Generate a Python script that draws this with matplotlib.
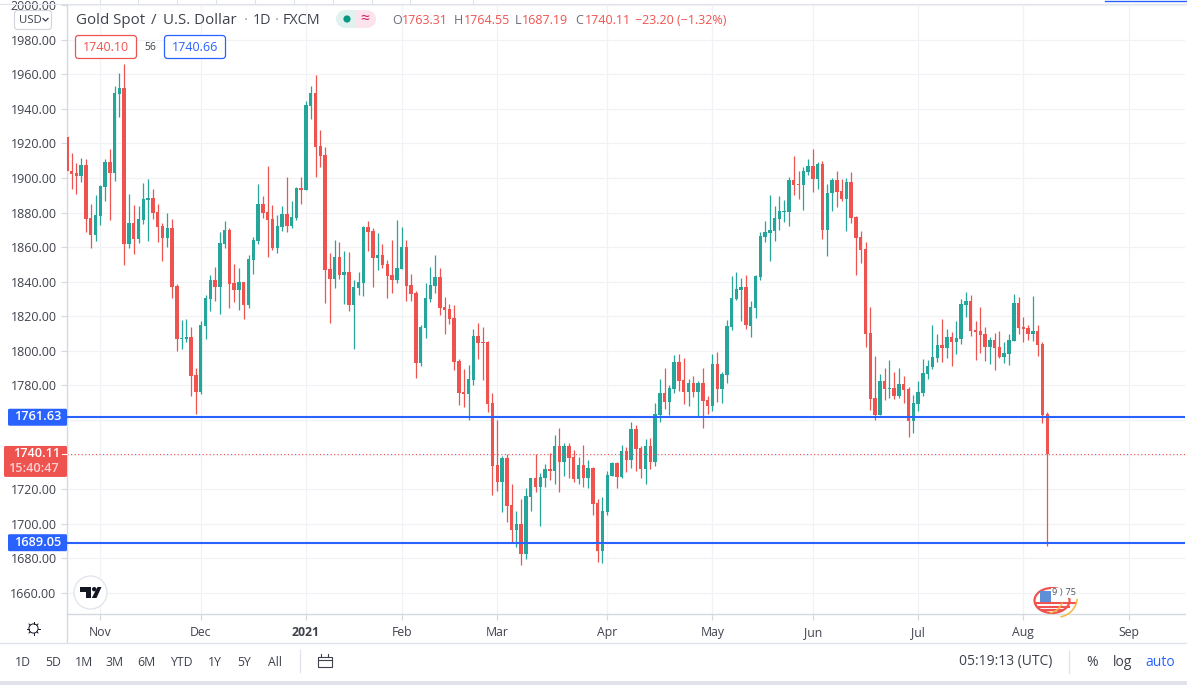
######## IMPORTS ########
import matplotlib
matplotlib.use("Agg")
import matplotlib.pyplot as plt
from matplotlib.patches import Circle, Ellipse, FancyBboxPatch, Polygon, Rectangle, Wedge

######## DATA ########
opens = [
    1924, 1904.1, 1903.2, 1901.2, 1907.6, 1877, 1867.1, 1878.1, 1894.9, 1909.3,
    1903, 1948.6, 1952.1, 1861.7, 1873.8, 1864.6, 1875.6, 1887.1, 1888.3, 1880.2,
    1872.1, 1865.2, 1870.9, 1837.3, 1806.8, 1806.8, 1807.9, 1786, 1776.1, 1814.3,
    1829.9, 1840.9, 1836.8, 1861.7, 1869.8, 1839.1, 1835.1, 1839.7, 1826.4, 1852.4,
    1863.4, 1885, 1880.4, 1876.4, 1859.6, 1871.8, 1879.3, 1872.3, 1877, 1894.3,
    1893.1, 1941.7, 1949.2, 1918.6, 1913.4, 1847.5, 1841.7, 1854.4, 1844, 1845.5,
    1826.3, 1836.4, 1839.4, 1871.8, 1869.4, 1853.8, 1855.6, 1850.4, 1844, 1841.1,
    1847.5, 1860.2, 1838.2, 1833.6, 1793.1, 1813.4, 1830.1, 1837.6, 1842.9, 1825.5,
    1824.4, 1819.2, 1794.3, 1776.4, 1775.2, 1783.3, 1808.7, 1805.3, 1805.3, 1770,
    1734.2, 1724.4, 1738.2, 1711.1, 1696.6, 1700.1, 1682.7, 1715.7, 1726.7, 1721.5,
    1726.7, 1731.9, 1730.7, 1745.2, 1735.9, 1745.2, 1738.8, 1726, 1734.2, 1726.7,
    1732.4, 1712.2, 1684.5, 1707, 1727.8, 1735, 1726.9, 1741.9, 1736.7, 1754.6,
    1743.7, 1731.5, 1744.8, 1735.6, 1762.7, 1775.5, 1770.3, 1777.8, 1793.4, 1783,
    1776, 1781.2, 1776, 1781.2, 1771.4, 1767.9, 1792.2, 1777.8, 1785.9, 1813.6,
    1829.8, 1835, 1836.7, 1814.2, 1824.6, 1842.6, 1865.8, 1868, 1869.2, 1876.2,
    1880.2, 1880.2, 1898.8, 1896.4, 1895.9, 1903.4, 1906.9, 1899.3, 1908, 1869.8,
    1891.2, 1898.8, 1892.4, 1887.8, 1897.6, 1877.3, 1865.8, 1858.8, 1810.2, 1772.5,
    1763.2, 1782.4, 1777.7, 1778.6, 1774, 1780.9, 1778, 1759.5, 1769.3, 1775.7,
    1786.7, 1790.7, 1795.9, 1803.4, 1801.7, 1808, 1805.2, 1806.9, 1826.6, 1828.9,
    1812.1, 1811.5, 1809.8, 1802.3, 1806.3, 1802.3, 1796.5, 1798.2, 1805.7, 1827.7,
    1813.8, 1813.3, 1809.8, 1811.5, 1804, 1763.31,
]
highs = [
    1924.4, 1914.5, 1908.7, 1911.6, 1911, 1885, 1890.3, 1896, 1911, 1916.8,
    1953.3, 1960.8, 1966, 1890.8, 1884.2, 1883.7, 1897, 1899.5, 1893.5, 1884.8,
    1873.8, 1879.6, 1876.1, 1838.7, 1817.8, 1818.3, 1813.7, 1790, 1817.2, 1832.2,
    1843.8, 1848.4, 1868.6, 1875, 1871, 1850.1, 1847.8, 1840, 1855.3, 1865.7,
    1896.4, 1889.7, 1907, 1884.5, 1878.7, 1883.9, 1900.7, 1886.8, 1894.9, 1900.7,
    1944.6, 1953.3, 1959.6, 1927.8, 1918, 1856.7, 1864.2, 1863.1, 1857.9, 1857.3,
    1841, 1845.7, 1872.3, 1875.2, 1871.2, 1868.3, 1861.9, 1852.7, 1864.2, 1875.8,
    1871.8, 1864.2, 1844.4, 1834.8, 1815.1, 1839.4, 1848.6, 1855.6, 1848, 1831.3,
    1827.2, 1826.7, 1795.5, 1789.7, 1792, 1812.8, 1816.3, 1814, 1805.9, 1775.8,
    1760.2, 1739.4, 1740.5, 1723.2, 1707.6, 1714.5, 1720.9, 1726.7, 1740.5, 1729.6,
    1734.8, 1741.1, 1751.5, 1755.6, 1746.9, 1746.9, 1742.8, 1738.8, 1745.7, 1737,
    1733, 1714.5, 1715.7, 1730.4, 1736, 1735.5, 1745.4, 1744.2, 1758.7, 1757,
    1744.8, 1748.9, 1749.4, 1769.7, 1783.5, 1789.9, 1780.1, 1797.4, 1798, 1795.7,
    1783.5, 1785.3, 1782.4, 1789.9, 1773.7, 1798, 1799.2, 1787.6, 1817.6, 1843.1,
    1845.4, 1841.9, 1843.7, 1828.6, 1843.7, 1868.6, 1875, 1890.1, 1883.7, 1889.5,
    1887.2, 1900.5, 1912.7, 1904, 1906.3, 1910.9, 1916.7, 1909.2, 1909.8, 1896.4,
    1899.9, 1904, 1899.3, 1899.9, 1903.4, 1877.9, 1869.2, 1862.9, 1825.2, 1796.8,
    1786.4, 1789.9, 1794.5, 1787.8, 1790.1, 1785.5, 1779.2, 1774.5, 1782.6, 1795.3,
    1794.8, 1815, 1809.8, 1818.5, 1812.7, 1810.9, 1817.3, 1830, 1834.1, 1832.3,
    1817.3, 1825.4, 1813.8, 1808, 1810.4, 1811.5, 1805.2, 1809.8, 1832.9, 1831.2,
    1819.6, 1815, 1831.8, 1815, 1805.2, 1764.55,
]
lows = [
    1903.7, 1893.7, 1890.8, 1897.8, 1868.9, 1859.4, 1863.6, 1873, 1886.8, 1875.8,
    1898.3, 1935.3, 1849.6, 1859.4, 1855.9, 1862.3, 1873.3, 1863.4, 1876.1, 1862.9,
    1851.9, 1860, 1830.5, 1799.8, 1801, 1805, 1773.8, 1763.4, 1775, 1806.8,
    1823, 1828.7, 1821.2, 1859.4, 1824.7, 1828.2, 1823.5, 1818.3, 1824.7, 1844.4,
    1861.7, 1877, 1854.4, 1858.5, 1856.7, 1869.4, 1868.9, 1871.2, 1875.8, 1885,
    1893.1, 1934.2, 1900.7, 1906.4, 1827.5, 1816, 1836.5, 1841.5, 1827, 1822.9,
    1801, 1832.4, 1831.7, 1857.9, 1837, 1846.9, 1848, 1830.5, 1833.5, 1839.2,
    1847.5, 1829, 1829, 1784.5, 1791.4, 1807.6, 1828.4, 1833.6, 1820.9, 1809.9,
    1815.7, 1789.1, 1768.9, 1767.7, 1760.2, 1780.4, 1795.5, 1783.3, 1764.8, 1716.8,
    1719.2, 1707, 1701.2, 1689.1, 1686.8, 1676.4, 1679.8, 1707.6, 1718.6, 1698.9,
    1721.5, 1725.5, 1723.2, 1718.6, 1727.8, 1726.7, 1724.4, 1723.2, 1721.5, 1720.9,
    1705.3, 1678.1, 1677.5, 1705.3, 1727.5, 1720.7, 1726.3, 1729.8, 1732.1, 1730.4,
    1726.3, 1722.9, 1731.5, 1733.3, 1758.7, 1766.2, 1762.7, 1775.5, 1776.6, 1769.1,
    1767.9, 1773.1, 1761.6, 1755.2, 1763.3, 1765, 1770.3, 1769.7, 1781.2, 1811.9,
    1829.2, 1817.1, 1812.4, 1807.8, 1818.8, 1840.8, 1862.9, 1851.9, 1863.4, 1869.8,
    1874.4, 1872.1, 1890.1, 1887.8, 1881.4, 1901.7, 1891.8, 1893.6, 1864.6, 1854.7,
    1880.8, 1883.1, 1886.6, 1869.2, 1873.9, 1843.7, 1850.7, 1802, 1766.1, 1759.8,
    1763.2, 1771.4, 1772.5, 1772.2, 1772.8, 1769.9, 1750.3, 1752.6, 1765.3, 1774,
    1783.8, 1789.6, 1793.6, 1793.6, 1795.9, 1791.3, 1798.2, 1804, 1819.6, 1808.6,
    1794.8, 1798.8, 1794.2, 1792.4, 1789, 1795.9, 1793, 1791.8, 1805.7, 1809.8,
    1805.2, 1806.3, 1805.7, 1797.1, 1758.3, 1687.19,
]
closes = [
    1904, 1902.4, 1901.2, 1907.6, 1876.4, 1867.1, 1878.7, 1895.5, 1909.3, 1903,
    1949.2, 1952.1, 1861.7, 1873.8, 1864.6, 1876.1, 1887.7, 1888.3, 1879.6, 1871.5,
    1865.2, 1870.9, 1836.8, 1806.8, 1807.3, 1807.9, 1785.4, 1776.1, 1814.9, 1830.5,
    1840.9, 1836.8, 1862.3, 1869.8, 1838.6, 1835.1, 1839.7, 1826.4, 1853, 1864,
    1884.8, 1879.8, 1875.8, 1859.6, 1872.3, 1879.3, 1872.3, 1877.5, 1894.3, 1893.1,
    1942.3, 1949.2, 1918, 1912.8, 1846.9, 1841.7, 1854.4, 1844, 1845.7, 1826.3,
    1837, 1840, 1871.8, 1868.9, 1853.8, 1855.6, 1849.8, 1843.4, 1841.1, 1848,
    1860.2, 1837.6, 1833, 1793.1, 1814, 1830.7, 1838.2, 1842.9, 1824.9, 1823.8,
    1818.6, 1793.7, 1775.8, 1775.2, 1783.9, 1808.7, 1804.7, 1804.7, 1769.4, 1733.6,
    1724.4, 1738.2, 1710.5, 1696.6, 1700.1, 1682.7, 1716.3, 1726.7, 1721.5, 1727.2,
    1731.9, 1730.7, 1745.2, 1735.9, 1745.2, 1738.2, 1726, 1734.2, 1726.7, 1732.4,
    1711.6, 1684.5, 1707.6, 1728.4, 1735, 1726.9, 1741.9, 1736.7, 1754.6, 1743.1,
    1731.5, 1744.8, 1735.6, 1763.3, 1775.5, 1770.3, 1778.3, 1793.4, 1782.4, 1776,
    1781.2, 1776, 1781.2, 1770.8, 1767.9, 1792.2, 1777.8, 1786.4, 1814.2, 1830.4,
    1835.6, 1836.7, 1814.8, 1825.2, 1843.1, 1866.3, 1868.6, 1869.8, 1876.8, 1880.8,
    1880.8, 1898.8, 1895.9, 1895.9, 1904, 1906.9, 1899.3, 1908, 1869.8, 1891.2,
    1898.8, 1891.8, 1887.8, 1897.6, 1876.8, 1865.2, 1858.2, 1809.6, 1771.9, 1763.2,
    1782.4, 1777.7, 1778.3, 1774, 1780.9, 1777.4, 1759.5, 1769.9, 1776.3, 1787.2,
    1791.3, 1796.5, 1803.4, 1801.7, 1808, 1805.2, 1807.5, 1827.1, 1828.9, 1811.5,
    1810.9, 1809.2, 1802.3, 1806.3, 1801.7, 1796.5, 1798.8, 1806.3, 1827.7, 1813.3,
    1812.7, 1809.8, 1811.5, 1803.4, 1763, 1740.11,
]

# Bar number of the first session of each month
month_bars = [7, 28, 50, 70, 90, 113, 135, 156, 178, 200, 222]
month_labels = ["Nov", "Dec", "2021", "Feb", "Mar", "Apr", "May", "Jun", "Jul", "Aug", "Sep"]

price_ticks = [1660, 1680, 1700, 1720, 1740, 1760, 1780, 1800, 1820, 1840, 1860, 1880,
               1900, 1920, 1940, 1960, 1980, 2000]
hidden_labels = [1740, 1760]  # these sit under the price tags

support = 1689.05
resistance = 1761.63
last_price = 1740.11
bid = "1740.10"
ask = "1740.66"
spread = "56"
countdown = "15:40:47"
ranges = ["1D", "5D", "1M", "3M", "6M", "YTD", "1Y", "5Y", "All"]
range_x = [23, 53, 84, 115, 146, 181, 215, 244, 275]

######## STYLE ########
UP = "#26a69a"
DOWN = "#ef5350"
BLUE = "#2962ff"
GRID = "#f1f2f6"
AXIS = "#d6d8e0"
TEXT = "#3f424d"
WIDTH, HEIGHT = 1187, 685

plt.rcParams["font.family"] = ["Open Sans", "DejaVu Sans"]
plt.rcParams["font.size"] = 9

fig = plt.figure(figsize=(WIDTH / 100, HEIGHT / 100), dpi=100, facecolor="white")

######## PRICE PANE ########
pane_l, pane_r, pane_t, pane_b = 67, 1185, 4, 614
ax = fig.add_axes([pane_l / WIDTH, 1 - pane_b / HEIGHT, (pane_r - pane_l) / WIDTH, (pane_b - pane_t) / HEIGHT])
ax.set_xlim(0.04, 233.8)
ax.set_ylim(1647.8, 2000.7)

for name in ["top", "right"]:
    ax.spines[name].set_visible(False)
for name in ["left", "bottom"]:
    ax.spines[name].set_color(AXIS)
    ax.spines[name].set_linewidth(1.0)

ax.set_axisbelow(True)
ax.grid(True, color=GRID, linewidth=0.9)

ax.set_yticks(price_ticks)
ax.set_yticklabels(["" if p in hidden_labels else f"{p:.2f}" for p in price_ticks])
ax.tick_params(axis="y", length=4, width=0.8, color=AXIS, labelcolor=TEXT, pad=3.5, labelsize=9)
ax.set_xticks(month_bars)
ax.set_xticklabels(month_labels)
ax.tick_params(axis="x", length=4, width=0.8, color=AXIS, labelcolor=TEXT, pad=4.5, labelsize=8.8)
ax.get_xticklabels()[2].set_fontweight("bold")

# Candles
bars = list(range(len(closes)))
colors = [UP if c >= o else DOWN for o, c in zip(opens, closes)]
bottoms = [min(o, c) for o, c in zip(opens, closes)]
heights = [max(abs(c - o), 0.6) for o, c in zip(opens, closes)]
ax.vlines(bars, lows, highs, colors=colors, linewidth=0.9, zorder=2)
ax.bar(bars, heights, bottom=bottoms, width=0.72, color=colors, linewidth=0, zorder=3)

# Horizontal levels and last price line
ax.axhline(resistance, color=BLUE, linewidth=1.5, zorder=4)
ax.axhline(support, color=BLUE, linewidth=1.5, zorder=4)
ax.axhline(last_price, color=DOWN, linewidth=0.8, linestyle=(0, (1, 2.2)), zorder=4)

######## INTERFACE LAYER (pixel coordinates) ########
ui = fig.add_axes([0, 0, 1, 1], facecolor="none")
ui.set_xlim(0, WIDTH)
ui.set_ylim(HEIGHT, 0)
ui.axis("off")


def label(x, y, s, color=TEXT, size=9, ha="left", weight="normal", z=10):
    return ui.text(x, y, s, color=color, fontsize=size, ha=ha, va="center", fontweight=weight, zorder=z)


def box(x, y, w, h, face, edge="none", lw=1.0, round_px=2, z=8):
    patch = FancyBboxPatch((x + round_px, y + round_px), w - 2 * round_px, h - 2 * round_px,
                           boxstyle=f"round,pad={round_px}", facecolor=face, edgecolor=edge, linewidth=lw, zorder=z)
    ui.add_patch(patch)


def price_to_y(price):
    return HEIGHT - ax.transData.transform((0, price))[1]


# Frame lines
ui.plot([0, WIDTH], [3.5, 3.5], color="#e0e3eb", linewidth=0.8)
ui.plot([0, WIDTH], [642.5, 642.5], color="#e0e3eb", linewidth=1.0)
ui.plot([66.5, 66.5], [pane_b, 642], color=AXIS, linewidth=1.0)
for x in [100, 138, 177, 216, 255, 294, 333, 372, 410, 473]:
    ui.plot([x, x], [0, 3], color="#e0e3eb", linewidth=0.8)
ui.plot([1105, WIDTH], [0.5, 0.5], color=BLUE, linewidth=1.0)
ui.add_patch(Rectangle((0, 681), WIDTH, 4, facecolor="#e0e3eb", edgecolor="none"))

# Header
label(76, 20, "Gold Spot", size=10.9)
label(151, 20, "/", size=10.9)
label(163, 20, "U.S. Dollar", size=10.9)
label(244, 20, "·", color="#9598a1", size=10.9)
label(253, 20, "1D", size=10.4)
label(275, 20, "·", color="#9598a1", size=10.9)
label(283, 20, "FXCM", size=10.4)

ui.add_patch(Wedge((345, 19), 9, 90, 270, facecolor="#dff2ef", edgecolor="none", zorder=8))
ui.add_patch(Rectangle((345, 10), 11, 18, facecolor="#dff2ef", edgecolor="none", zorder=8))
ui.add_patch(Rectangle((356, 10), 11, 18, facecolor="#fbe4ec", edgecolor="none", zorder=8))
ui.add_patch(Wedge((367, 19), 9, -90, 90, facecolor="#fbe4ec", edgecolor="none", zorder=8))
ui.add_patch(Circle((347, 19), 3.6, facecolor="#089981", edgecolor="none", zorder=9))
label(365, 19, "≈", color="#d81b60", size=11.5, ha="center")

ohlc = [(392, "O", "1763.31"), (454, "H", "1764.55"), (515, "L", "1687.19"), (575, "C", "1740.11")]
for x, letter, value in ohlc:
    label(x, 20, letter, color="#6a6d78", size=9)
    label(x + (10 if letter != "L" else 7), 20, value, color=DOWN, size=9)
label(635, 20, "−23.20 (−1.32%)", color=DOWN, size=9)

box(75.5, 35.5, 61, 23, "white", edge=DOWN, lw=0.9, round_px=3)
label(106, 47, bid, color=DOWN, ha="center", size=9, z=9)
label(150, 47, spread, color=TEXT, ha="center", size=7.4)
box(164.5, 35.5, 61, 23, "white", edge=BLUE, lw=0.9, round_px=3)
label(195, 47, ask, color=BLUE, ha="center", size=9, z=9)

# Currency button
box(14.5, 10.5, 37, 19, "white", edge="#d1d4dc", lw=0.8, round_px=3)
label(19, 20, "USD", size=8.2, z=9)
ui.plot([43, 45.5, 48], [18.5, 21, 18.5], color=TEXT, linewidth=0.9, zorder=9)

# Price tags on the axis, placed from the same level values as the lines
for level in [resistance, support]:
    tag_y = price_to_y(level)
    box(8, tag_y - 8.5, 59, 17, BLUE, round_px=1.5)
    label(37.5, tag_y - 0.3, f"{level:.2f}", color="white", ha="center", size=9.2, weight="semibold")

last_y = price_to_y(last_price)
box(4, last_y - 8.5, 63, 31, DOWN, round_px=1.5)
label(37, last_y - 0.5, f"{last_price:.2f}", color="white", ha="center", size=9.2, weight="semibold")
label(33.5, last_y + 14, countdown, color="#fbd0cf", ha="center", size=9.2, weight="semibold")
ui.plot([62, 67], [last_y, last_y], color="white", linewidth=0.8, zorder=10)

# Round logo in the lower left corner of the pane
ui.add_patch(Circle((90.5, 592.5), 16.5, facecolor="white", edgecolor="#e0e3eb", linewidth=0.9, zorder=7))
ui.add_patch(Polygon([(80, 587), (91, 587), (91, 598), (86, 598), (86, 591.5), (80, 591.5)],
                     facecolor="#131722", edgecolor="none", zorder=8))
ui.add_patch(Circle((94.2, 589.2), 2.2, facecolor="#131722", edgecolor="none", zorder=8))
ui.add_patch(Polygon([(97.5, 587), (101.5, 587), (96.5, 598), (91.8, 598)], facecolor="#131722",
                     edgecolor="none", zorder=8))

# Flag badge near the lower right
ui.add_patch(Ellipse((1052, 600.5), 35, 25, facecolor="white", edgecolor="#ef5350", linewidth=1.6, zorder=7))
ui.add_patch(Rectangle((1040, 591), 11, 11, facecolor="#5f8fd6", edgecolor="none", zorder=8))
for y in [603, 606.5, 610]:
    ui.plot([1037 + (y - 603) * 0.6, 1076 - (y - 603) * 2], [y, y], color="#ef5350", linewidth=1.5, zorder=8)
ui.add_patch(Wedge((1057, 597), 21, 5, 80, width=1.6, facecolor="#f5b942", edgecolor="none", zorder=8))
ui.add_patch(Wedge((1047, 597), 17, 20, 80, width=1.4, facecolor="#f5b942", edgecolor="none", zorder=9))
ui.add_patch(Rectangle((1051, 588), 25, 10, facecolor="white", edgecolor="none", zorder=9))
label(1063.5, 592.5, "9 ⟩ 75", color="#50535e", ha="center", size=6.6)

# Settings gear under the axis
ui.add_patch(Circle((33.5, 628.5), 4.6, facecolor="none", edgecolor="#131722", linewidth=0.7, zorder=8))
for dx, dy in [(0, -6.4), (0, 6.4), (-6.4, 0), (6.4, 0), (-4.5, -4.5), (4.5, -4.5), (-4.5, 4.5), (4.5, 4.5)]:
    ui.plot([33.5 + dx * 0.75, 33.5 + dx], [628.5 + dy * 0.75, 628.5 + dy], color="#131722", linewidth=0.7, zorder=8)

# Bottom toolbar
for x, name in zip(range_x, ranges):
    label(x, 662, name, ha="center", size=8.8)
ui.plot([299.5, 299.5], [650, 672], color="#e0e3eb", linewidth=0.9)
ui.add_patch(Rectangle((317.5, 656.5), 14, 10, facecolor="none", edgecolor="#3f424d", linewidth=0.8))
ui.plot([317.5, 331.5], [659.5, 659.5], color="#3f424d", linewidth=0.8)
ui.plot([321, 321], [654, 656.5], color="#3f424d", linewidth=0.8)
ui.plot([328, 328], [654, 656.5], color="#3f424d", linewidth=0.8)

label(1052, 662, "05:19:13 (UTC)", ha="right", size=10)
ui.plot([1068.5, 1068.5], [651, 673], color="#e0e3eb", linewidth=0.9)
label(1092, 662, "%", ha="center", size=10)
label(1123, 662, "log", ha="center", size=10)
label(1160, 662, "auto", color=BLUE, ha="center", size=10)

fig.savefig("out.png", dpi=100, facecolor="white")
